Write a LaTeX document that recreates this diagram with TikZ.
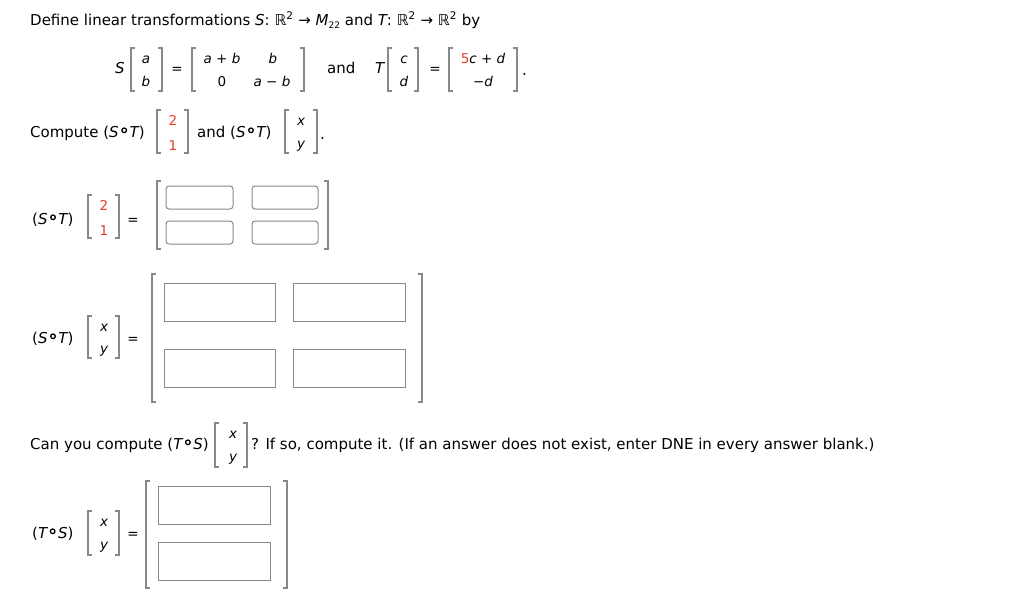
\documentclass[tikz,border=0pt]{standalone}
\usepackage{fontspec}
\setmainfont{DejaVu Sans}
\newfontfamily\itf{DejaVu Sans Oblique}
\definecolor{brk}{HTML}{888888}
\definecolor{bxc}{HTML}{888888}
\definecolor{redc}{HTML}{E8392B}
\tikzset{
  txt/.style={anchor=base west,inner sep=0pt,font=\fontsize{15}{17}\selectfont},
  ent/.style={anchor=base,inner sep=0pt,font=\fontsize{13.5}{15}\selectfont},
  bx/.style={draw=bxc,line width=1pt,fill=white},
  rbx/.style={bx,rounded corners=3pt},
  br/.style={draw=brk,line width=1.4pt},
}
\newcommand{\brkt}[4]{% xl xr ytop ybot
  \draw[br] (#1+4,#3)--(#1,#3)--(#1,#4)--(#1+4,#4);
  \draw[br] (#2-4,#3)--(#2,#3)--(#2,#4)--(#2-4,#4);}
\newcommand{\vi}[1]{{\itf #1}}
\newcommand{\cmp}{\,\raisebox{0.25em}{\tikz\draw[line width=1.3pt] (0,0) circle (2.3pt);}\,}
\begin{document}
\begin{tikzpicture}[x=1pt,y=-1pt]
\useasboundingbox[fill=white] (0,0) rectangle (1024,606);
% row 1
\node[txt] (t1) at (30,25) {Define linear transformations \vi{S}: ℝ\textsuperscript{2} → \vi{M}\raisebox{-0.45ex}{\small 22} and \vi{T}: ℝ\textsuperscript{2} → ℝ\textsuperscript{2} by};
% row 2
\node[txt] (s1) at (115,73) {\vi{S}};
\brkt{131}{162}{48}{91}
\node[ent] (a1) at (146,63) {\vi{a}};
\node[ent] (b1) at (146,86) {\vi{b}};
\node[ent] (eq1) at (177,73) {=};
\brkt{192}{304}{48}{91}
\node[ent] (m11) at (222,63) {\vi{a} + \vi{b}};
\node[ent] (m12) at (273,63) {\vi{b}};
\node[ent] (m21) at (222,86) {0};
\node[ent] (m22) at (272,86) {\vi{a} − \vi{b}};
\node[txt] (and1) at (327,73) {and};
\node[txt] (t2) at (375,73) {\vi{T}};
\brkt{388}{418}{48}{91}
\node[ent] (c1) at (404,63) {\vi{c}};
\node[ent] (d1) at (404,86) {\vi{d}};
\node[ent] (eq2) at (435,73) {=};
\brkt{449}{517}{48}{91}
\node[ent] (v1) at (483,63) {\textcolor{redc}{5}\vi{c} + \vi{d}};
\node[ent] (v2) at (483,86) {−\vi{d}};
\node[txt] (dot1) at (522,75) {.};
% row 3
\node[txt] (c3) at (30,137) {Compute (\vi{S}\cmp\vi{T})};
\brkt{157}{188}{110}{153}
\node[ent,text=redc] (r2) at (173,125) {2};
\node[ent,text=redc] (r1) at (173,150) {1};
\node[txt] (and2) at (197,137) {and (\vi{S}\cmp\vi{T})};
\brkt{285}{317}{110}{153}
\node[ent] (x3) at (301,125) {\vi{x}};
\node[ent] (y3) at (301,148) {\vi{y}};
\node[txt] (dot2) at (320,139) {.};
% row 4
\node[txt] (l4) at (32,224) {(\vi{S}\cmp\vi{T})};
\brkt{88}{119}{195}{238}
\node[ent,text=redc] (r2b) at (104,210) {2};
\node[ent,text=redc] (r1b) at (104,235) {1};
\node[ent] (eq4) at (133,224) {=};
\brkt{157}{328}{181}{249}
\node[rbx,minimum width=67pt,minimum height=23pt] (b11) at (199.5,197.5) {};
\node[rbx,minimum width=66pt,minimum height=23pt] (b12) at (285,197.5) {};
\node[rbx,minimum width=67pt,minimum height=23pt] (b21) at (199.5,232.5) {};
\node[rbx,minimum width=66pt,minimum height=23pt] (b22) at (285,232.5) {};
% row 5
\node[txt] (l5) at (32,343) {(\vi{S}\cmp\vi{T})};
\brkt{88}{119}{316}{358}
\node[ent] (x5) at (104,331) {\vi{x}};
\node[ent] (y5) at (104,353) {\vi{y}};
\node[ent] (eq5) at (133,343) {=};
\brkt{152}{422}{274}{402}
\node[bx,minimum width=111pt,minimum height=38pt] (c11) at (219.5,302) {};
\node[bx,minimum width=112pt,minimum height=38pt] (c12) at (349,302) {};
\node[bx,minimum width=111pt,minimum height=38pt] (c21) at (219.5,368) {};
\node[bx,minimum width=112pt,minimum height=38pt] (c22) at (349,368) {};
% row 6
\node[txt] (q6) at (30,449) {Can you compute (\vi{T}\cmp\vi{S})};
\brkt{215}{247}{423}{467}
\node[ent] (x6) at (233,438) {\vi{x}};
\node[ent] (y6) at (233,461) {\vi{y}};
\node[txt] (q6b) at (251,449) {? If so, compute it. (If an answer does not exist, enter DNE in every answer blank.)};
% row 7
\node[txt] (l7) at (32,538) {(\vi{T}\cmp\vi{S})};
\brkt{88}{119}{511}{555}
\node[ent] (x7) at (104,526) {\vi{x}};
\node[ent] (y7) at (104,549) {\vi{y}};
\node[ent] (eq7) at (133,538) {=};
\brkt{146}{287}{481}{588}
\node[bx,minimum width=112pt,minimum height=38pt] (d1b) at (214,505) {};
\node[bx,minimum width=112pt,minimum height=38pt] (d2b) at (214,561) {};
\end{tikzpicture}
\end{document}
